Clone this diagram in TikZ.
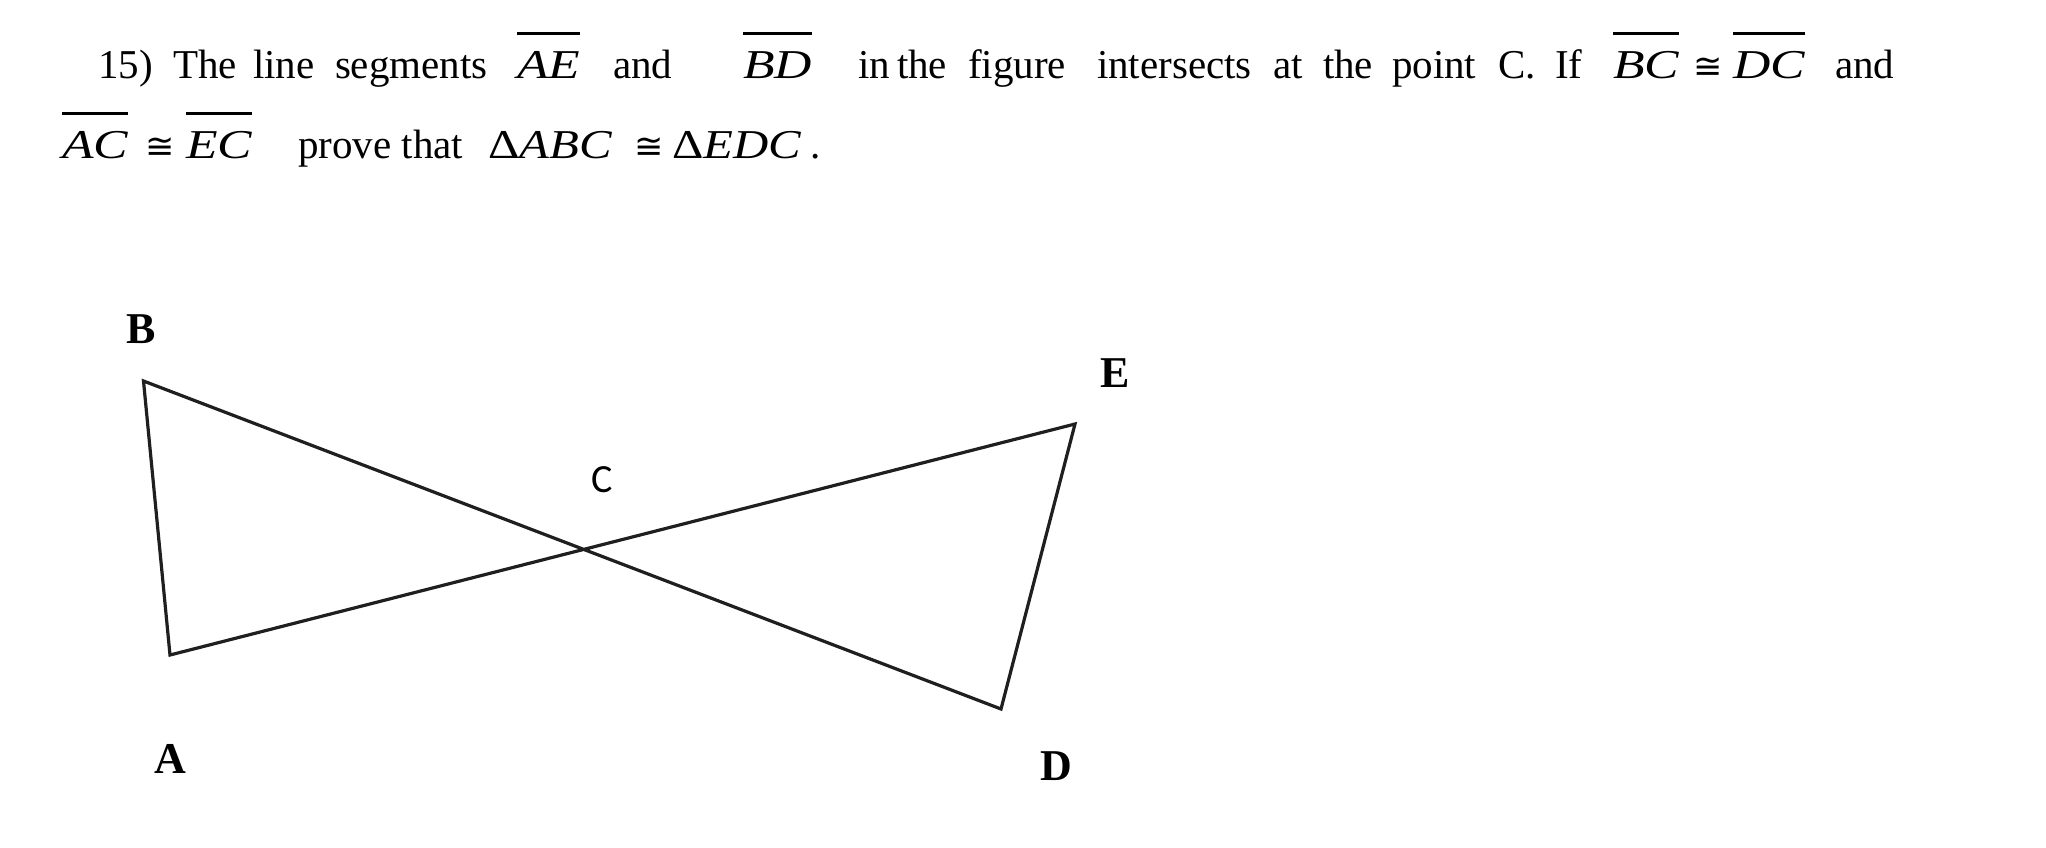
\documentclass[tikz,border=0pt]{standalone}
\usepackage{fontspec}
\setmainfont{Liberation Serif}
\newfontfamily\calib{Carlito}
\newfontfamily\symf{DejaVu Sans}
\newcommand\ovl[1]{\setbox0\hbox{\scalebox{1.26}[1]{\itshape #1}}\rlap{\raisebox{43.5pt}{\rule{\wd0}{2.4pt}}}\box0}
\newcommand\tri[1]{\scalebox{1.19}[1]{Δ\textit{#1}}}
\newcommand\cng{{\symf\fontsize{35}{40}\selectfont ≅}}
\begin{document}
\begin{tikzpicture}[x=1pt,y=-1pt,
  txt/.style={anchor=base west,inner sep=0pt,outer sep=0pt,font=\fontsize{41}{49}\selectfont},
  lbl/.style={anchor=base west,inner sep=0pt,outer sep=0pt,font=\bfseries\fontsize{44}{50}\selectfont},
  clbl/.style={anchor=base west,inner sep=0pt,outer sep=0pt,font=\calib\fontsize{40}{48}\selectfont},
  seg/.style={line width=3.2pt,draw=black!88,line join=miter}]
\useasboundingbox (0,0) rectangle (2046,847);
% line 1
\node[txt] (w1) at (98,78) {15)};
\node[txt] (w2) at (173,78) {The};
\node[txt] (w3) at (253,78) {line};
\node[txt] (w4) at (335,78) {segments};
\node[txt] (w5) at (517,78) {\ovl{AE}};
\node[txt] (w6) at (613,78) {and};
\node[txt] (w7) at (743,78) {\ovl{BD}};
\node[txt] (w8) at (858,78) {in};
\node[txt] (w9) at (897,78) {the};
\node[txt] (w10) at (968,78) {figure};
\node[txt] (w11) at (1097,78) {intersects};
\node[txt] (w12) at (1273,78) {at};
\node[txt] (w13) at (1323,78) {the};
\node[txt] (w14) at (1392,78) {point};
\node[txt] (w15) at (1498,78) {C.};
\node[txt] (w16) at (1555,78) {If};
\node[txt] (w17) at (1613,78) {\ovl{BC}};
\node[txt] (w18) at (1693,78) {\cng};
\node[txt] (w19) at (1733,78) {\ovl{DC}};
\node[txt] (w20) at (1835,78) {and};
% line 2
\node[txt] (v1) at (62,158) {\ovl{AC}};
\node[txt] (v2) at (145,158) {\cng};
\node[txt] (v3) at (186,158) {\ovl{EC}};
\node[txt] (v4) at (298,158) {prove that};
\node[txt] (v5) at (488,158) {\tri{ABC}};
\node[txt] (v6) at (634,158) {\cng};
\node[txt] (v7) at (672,158) {\tri{EDC}};
\node[txt] (v8) at (810,158) {.};
% figure
\coordinate (B) at (143.5,381);
\coordinate (A) at (170,655);
\coordinate (E) at (1075,424);
\coordinate (D) at (1001,709);
\draw[seg] (B) -- (A) -- (E) -- (D) -- cycle;
\node[lbl] (lB) at (126,343) {B};
\node[lbl] (lE) at (1100,387.5) {E};
\node[clbl] (lC) at (591.5,492.6) {C};
\node[lbl] (lA) at (154,773) {A};
\node[lbl] (lD) at (1040,780) {D};
\end{tikzpicture}
\end{document}
